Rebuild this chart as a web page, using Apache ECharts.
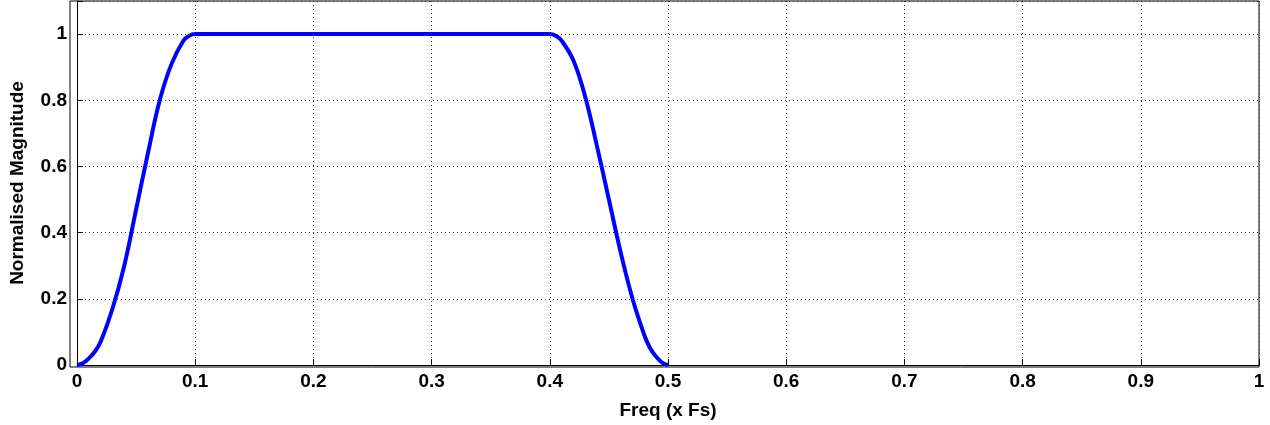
<!DOCTYPE html><html><head><meta charset="utf-8">
<script src="https://cdn.jsdelivr.net/npm/echarts@6/dist/echarts.min.js"></script>
<style>body{margin:0;background:#fff}#c{width:1270px;height:425px}</style></head><body><div id="c"></div>
<script>
const freq = [0,0.005,0.01,0.015,0.02,0.03,0.04,0.05,0.06,0.07,0.08,0.09,0.095,0.1,0.2,0.3,0.4,0.405,0.41,0.42,0.43,0.44,0.45,0.46,0.47,0.48,0.485,0.49,0.495,0.5];
const mag  = [0,0.005,0.02,0.04,0.07,0.17,0.30,0.47,0.64,0.80,0.91,0.98,0.995,1,1,1,1,0.995,0.98,0.92,0.81,0.66,0.50,0.34,0.20,0.09,0.05,0.025,0.007,0];
const xTicks = [0,0.1,0.2,0.3,0.4,0.5,0.6,0.7,0.8,0.9,1];
const yTicks = [0,0.2,0.4,0.6,0.8,1];
const font = {fontFamily:'Liberation Sans',fontWeight:'bold',fontSize:19,color:'#000'};
const ch = echarts.init(document.getElementById('c'));
ch.setOption({
  animation:false,
  grid:{left:70,right:11,top:1,bottom:58},
  xAxis:{type:'value',min:0,max:1,interval:0.1,name:'Freq (x Fs)',nameLocation:'middle',nameGap:36,
    nameTextStyle:font,
    axisLine:{lineStyle:{color:'#000'}},axisTick:{inside:true,length:6,lineStyle:{color:'#000'}},
    axisLabel:Object.assign({formatter:v=>xTicks.includes(+v.toFixed(1))?String(+v.toFixed(1)):''},font,{margin:7}),
    splitLine:{show:true,lineStyle:{type:[1,3],color:'#333'}}},
  yAxis:{type:'value',min:0,max:1.1,interval:0.2,name:'Normalised Magnitude',nameLocation:'middle',nameGap:50,
    nameTextStyle:font,
    axisLine:{show:true,lineStyle:{color:'#000'}},axisTick:{show:true,inside:true,length:6,lineStyle:{color:'#000'}},
    axisLabel:Object.assign({formatter:v=>{const r=+v.toFixed(1);return yTicks.includes(r)&&v<=1.0001?String(r):'';}},font,{margin:10}),
    splitLine:{show:true,lineStyle:{type:[1,3],color:'#333'}}},
  series:[{type:'line',data:freq.map((f,i)=>[f,mag[i]]),smooth:0.4,showSymbol:false,lineStyle:{color:'#0000ff',width:4}}],
  graphic:[{type:'rect',shape:{x:70,y:1,width:1189,height:366},style:{fill:'none',stroke:'#000',lineWidth:1}}]
});
</script></body></html>
